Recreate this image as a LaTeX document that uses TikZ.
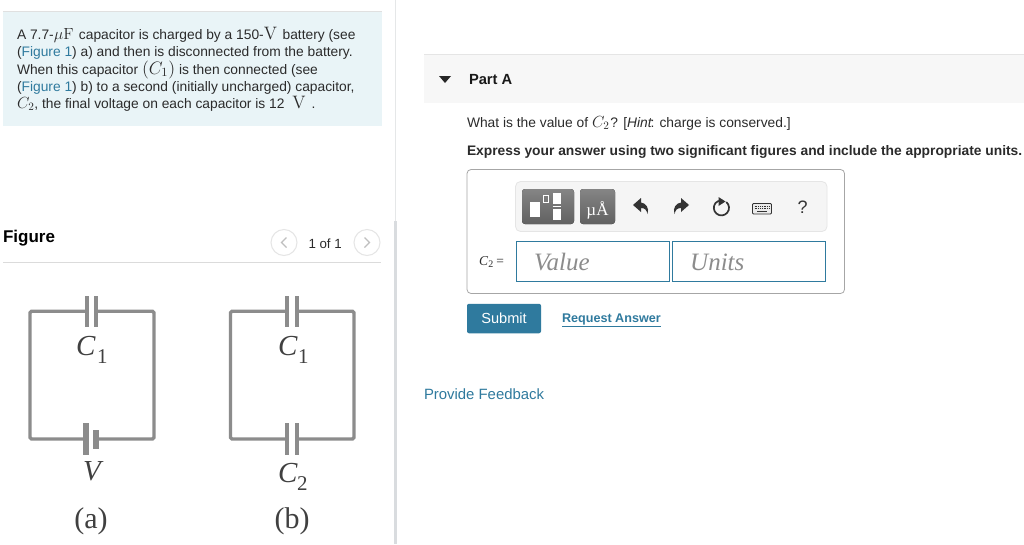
\documentclass[tikz,border=0pt]{standalone}
\usepackage{graphicx}
\usepackage[no-math]{fontspec}
\setmainfont{Liberation Sans}
\newfontfamily\serifx{Liberation Serif}
\definecolor{linkc}{HTML}{2F7A9E}
\definecolor{wirec}{HTML}{8C8C8C}
\definecolor{txtc}{HTML}{2B2B2B}
\definecolor{panelc}{HTML}{E9F4F7}
\definecolor{iconc}{HTML}{333333}
\newcommand\mth[1]{\scalebox{1.12}{$#1$}}
\newcommand\mthb[1]{\scalebox{1.25}{$#1$}}
\tikzset{
  lbl/.style={anchor=base west,inner sep=0pt,outer sep=0pt,text=txtc,font=\fontsize{13.8}{15}\selectfont},
  wire/.style={draw=wirec,line width=3.3pt,rounded corners=1.5pt},
  plate/.style={draw=wirec,line width=4pt},
  thickplate/.style={draw=wirec,line width=5.4pt},
  cirlbl/.style={anchor=base west,inner sep=0pt,text=black!75,font=\serifx\fontsize{29}{32}\selectfont\itshape},
  sublbl/.style={anchor=base west,inner sep=0pt,text=black!75,font=\serifx\fontsize{21}{22}\selectfont},
  caplbl/.style={anchor=base,inner sep=0pt,text=black!75,font=\serifx\fontsize{30}{32}\selectfont},
  toolbtn/.style={draw=none,rounded corners=3pt,top color=black!48,bottom color=black!62},
  inputbox/.style={draw=linkc,line width=1pt,fill=white},
  placeholder/.style={anchor=base west,inner sep=0pt,text=black!45,font=\serifx\fontsize{25}{27}\selectfont\itshape},
  pager/.style={draw=black!10,line width=1pt,fill=white},
  chev/.style={draw=black!25,line width=1.1pt},
  iconfill/.style={fill=iconc,draw=none},
}
\begin{document}
\begin{tikzpicture}[x=1pt,y=-1pt]
\useasboundingbox (0,0) rectangle (1024,544);
\fill[white] (0,0) rectangle (1024,544);
% left panel
\fill[panelc] (3,12) rectangle (382,125.5);
\draw[black!12,line width=0.8pt] (3,11.5) -- (382,11.5);
\fill[blue!20!cyan!8!black!10] (394.5,0) rectangle (396,221);
\fill[blue!40!cyan!15!black!15] (393.5,221) rectangle (397,544);
% problem text
\node[lbl] (t1) at (17,39) {A 7.7-\mth{\mu\mathrm{F}}\kern1.5pt{} capacitor is charged by a 150-\mthb{\mathrm{V}}\kern1.5pt{} battery (see};
\node[lbl] (t2) at (17,56) {(\textcolor{linkc}{Figure 1}) a) and then is disconnected from the battery.};
\node[lbl] (t3) at (17,74) {When this capacitor \mthb{(C_1)} is then connected (see};
\node[lbl] (t4) at (17,91) {(\textcolor{linkc}{Figure 1}) b) to a second (initially uncharged) capacitor,};
\node[lbl] (t5) at (17,108) {\mth{C_2}, the final voltage on each capacitor is 12 \kern4pt\mthb{\mathrm{V}}\kern2pt{} .};
% figure header
\node[lbl,text=black,font=\bfseries\fontsize{17}{17}\selectfont] (figh) at (3,242.5) {Figure};
\node[lbl,font=\fontsize{13.3}{14}\selectfont] (pg) at (308.5,248) {1 of 1};
\node[pager,circle,minimum size=26pt,inner sep=0pt] (prev) at (284,242.5) {};
\node[pager,circle,minimum size=26pt,inner sep=0pt] (next) at (367,242.5) {};
\draw[chev] (286.5,237.5) -- (281.5,242.5) -- (286.5,247.5);
\draw[chev] (364.5,237.5) -- (369.5,242.5) -- (364.5,247.5);
\draw[black!14,line width=0.8pt] (3,262.5) -- (381,262.5);
% circuit a
\coordinate (atl) at (30,311.3); \coordinate (atr) at (154,311.3);
\coordinate (abl) at (30,439); \coordinate (abr) at (154,439);
\coordinate (ac1) at (87,311.3); \coordinate (ac2) at (96.2,311.3);
\coordinate (ab1) at (86,439); \coordinate (ab2) at (96,439);
\draw[wire] (ac1) -- (atl) -- (abl) -- (ab1);
\draw[wire] (ac2) -- (atr) -- (abr) -- (ab2);
\draw[plate] (87,296) -- (87,327);
\draw[plate] (96.2,296) -- (96.2,327);
\draw[thickplate] (86,423) -- (86,455);
\draw[thickplate] (96,430) -- (96,449);
\node[cirlbl] (lc1) at (76,355) {C};
\node[sublbl] (lc1s) at (97,363) {1};
\node[cirlbl] (lv) at (83,480) {V};
\node[caplbl] (la) at (91,528) {(a)};
% circuit b
\coordinate (btl) at (230.5,311.3); \coordinate (btr) at (354,311.3);
\coordinate (bbl) at (230.5,439); \coordinate (bbr) at (354,439);
\coordinate (bc1) at (287,311.3); \coordinate (bc2) at (297,311.3);
\coordinate (bd1) at (287,439); \coordinate (bd2) at (297,439);
\draw[wire] (bc1) -- (btl) -- (bbl) -- (bd1);
\draw[wire] (bc2) -- (btr) -- (bbr) -- (bd2);
\draw[plate] (287,296) -- (287,327);
\draw[plate] (297,296) -- (297,327);
\draw[plate] (287,423) -- (287,455);
\draw[plate] (297,423) -- (297,455);
\node[cirlbl] (lc1b) at (278,355) {C};
\node[sublbl] (lc1bs) at (298,363) {1};
\node[cirlbl] (lc2) at (278,482) {C};
\node[sublbl] (lc2s) at (297,490) {2};
\node[caplbl] (lb) at (292,528) {(b)};
% part A
\fill[black!3] (424,54) rectangle (1024,103);
\draw[black!10,line width=1pt] (424,54) -- (1024,54);
\fill[black!85] (439,76) -- (451,76) -- (445,83) -- cycle;
\node[lbl,text=black!90,font=\bfseries\fontsize{14.7}{15}\selectfont] (pa) at (469,84) {Part A};
\node[lbl] (q) at (467,127) {What is the value of \mth{C_2}\kern1pt{}? [\textit{Hint}\kern-1.5pt: charge is conserved.]};
\node[lbl,font=\bfseries\fontsize{13.8}{15}\selectfont] (ex) at (467,155) {Express your answer using two significant figures and include the appropriate units.};
% answer box
\draw[black!35,line width=0.8pt,rounded corners=4pt,fill=white] (467,169.5) rectangle (844.5,293.5);
\draw[black!10,line width=0.8pt,rounded corners=5pt,fill=black!4] (515.5,181.5) rectangle (827,231.5);
\fill[toolbtn] (522,189) rectangle (574,224);
\fill[toolbtn] (580,189) rectangle (615,224);
\fill[white] (530,202) rectangle (540,217);
\draw[white,line width=0.8pt] (543.5,195.5) rectangle (548.5,202);
\fill[white] (552.5,192.5) rectangle (561,204);
\draw[white,line width=1pt] (552.5,206.5) -- (561,206.5);
\fill[white] (552.5,209) rectangle (561,219.5);
\node[anchor=base,inner sep=0pt,text=white,font=\serifx\fontsize{17}{19}\selectfont] (mu) at (597.5,215) {µÅ};
% undo, redo, reset, keyboard, help
\fill[iconfill] (633,205) -- (641,198) -- (641,202.5) .. controls (646,203) and (649.5,208) .. (647.5,214) .. controls (646.5,210) and (645,208) .. (641,208) -- (641,212) -- cycle;
\fill[iconfill] (689,205) -- (681,198) -- (681,202.5) .. controls (676,203) and (672.5,208) .. (674.5,214) .. controls (675.5,210) and (677,208) .. (681,208) -- (681,212) -- cycle;
\draw[iconc,line width=1.7pt] (726.3,202) arc (-50:250:7.6);
\fill[iconfill] (718.5,197) -- (725.5,201.5) -- (718.5,206) -- cycle;
\draw[iconc,line width=0.8pt,fill=black!8,rounded corners=1pt] (752.5,203.5) rectangle (771.5,214);
\draw[iconc,line width=1pt,dash pattern=on 1pt off 0.8pt] (754.5,206) -- (770,206);
\draw[iconc,line width=1pt,dash pattern=on 1pt off 0.8pt] (754.5,208.5) -- (770,208.5);
\draw[iconc,line width=1pt] (757,211.5) -- (767,211.5);
\node[anchor=base,inner sep=0pt,text=iconc,font=\fontsize{18}{19}\selectfont] (help) at (802.5,213) {?};
% inputs
\node[anchor=base west,inner sep=0pt,text=txtc,font=\serifx\fontsize{13.5}{14}\selectfont] (ceq) at (479,265) {\textit{C}\raisebox{-2.5pt}{\fontsize{10}{10}\selectfont 2}\kern3pt=};
\draw[inputbox] (516.5,241.5) rectangle (669.5,281);
\draw[inputbox] (672.5,241.5) rectangle (825.5,281);
\node[placeholder] (val) at (534,270) {Value};
\node[placeholder] (uni) at (690,270) {Units};
% buttons
\node[fill=linkc,rounded corners=2pt,minimum width=74pt,minimum height=29.5pt,inner sep=0pt,text=white,font=\fontsize{14.6}{16}\selectfont] (sub) at (504,318.5) {Submit};
\node[lbl,text=linkc,font=\bfseries\fontsize{12.6}{14}\selectfont] (req) at (562,322) {\underline{Request Answer}};
\node[lbl,text=linkc,font=\fontsize{14.9}{16}\selectfont] (fb) at (424,399) {Provide Feedback};
\end{tikzpicture}
\end{document}
